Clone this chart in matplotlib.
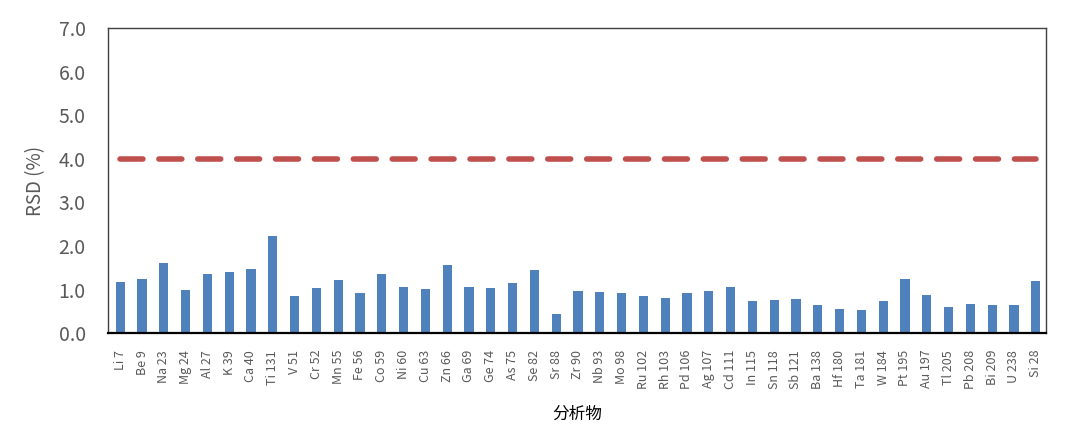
import matplotlib
matplotlib.use("Agg")
import matplotlib.pyplot as plt
import numpy as np

plt.rcParams['font.family'] = ['Noto Sans CJK SC', 'DejaVu Sans']

analytes = ["Li 7", "Be 9", "Na 23", "Mg 24", "Al 27", "K 39", "Ca 40", "Ti 131",
            "V 51", "Cr 52", "Mn 55", "Fe 56", "Co 59", "Ni 60", "Cu 63", "Zn 66",
            "Ga 69", "Ge 74", "As 75", "Se 82", "Sr 88", "Zr 90", "Nb 93", "Mo 98",
            "Ru 102", "Rh 103", "Pd 106", "Ag 107", "Cd 111", "In 115", "Sn 118",
            "Sb 121", "Ba 138", "Hf 180", "Ta 181", "W 184", "Pt 195", "Au 197",
            "Tl 205", "Pb 208", "Bi 209", "U 238", "Si 28"]
rsd = [1.17, 1.25, 1.60, 1.00, 1.35, 1.40, 1.48, 2.22,
       0.86, 1.04, 1.21, 0.93, 1.35, 1.07, 1.02, 1.56,
       1.07, 1.03, 1.15, 1.46, 0.45, 0.96, 0.94, 0.91,
       0.85, 0.80, 0.91, 0.96, 1.07, 0.73, 0.76,
       0.78, 0.65, 0.55, 0.54, 0.73, 1.25, 0.88,
       0.60, 0.68, 0.65, 0.65, 1.19]
limit = [4.0] * len(analytes)
yticks = [0.0, 1.0, 2.0, 3.0, 4.0, 5.0, 6.0, 7.0]

fig = plt.figure(figsize=(10.8, 4.26), dpi=100)
ax = fig.add_axes([0.1, 0.218, 0.8685, 0.716])
x = np.arange(len(analytes))
ax.bar(x, rsd, width=0.42, color='#4F81BD', zorder=2)
lw = 4.0
ax.plot(x, limit, color='#C0504D', linewidth=lw, solid_capstyle='round',
        dash_capstyle='round', linestyle=(0, (16.5 / lw, 11.5 / lw)), zorder=3)

ax.set_xlim(-0.56, len(analytes) - 1 + 0.47)
ax.set_ylim(0, 7.0)
ax.set_yticks(yticks)
ax.set_yticklabels([f"{v:.1f}" for v in yticks], fontsize=14, color='#595959')
ax.set_xticks(x)
ax.set_xticklabels(analytes, rotation=90, fontsize=9, color='#595959')
ax.tick_params(axis='both', length=0)
ax.tick_params(axis='y', pad=16)
ax.tick_params(axis='x', pad=12)

for s in ['left', 'top', 'right']:
    ax.spines[s].set_color('#404040')
    ax.spines[s].set_linewidth(1.0)
ax.spines['bottom'].set_color('#000000')
ax.spines['bottom'].set_linewidth(1.6)

ax.set_ylabel("RSD (%)", fontsize=13.5, color='#595959', labelpad=9)
ax.set_xlabel("分析物", fontsize=12, color='#000000', labelpad=12)

fig.savefig("out.png", dpi=100)
